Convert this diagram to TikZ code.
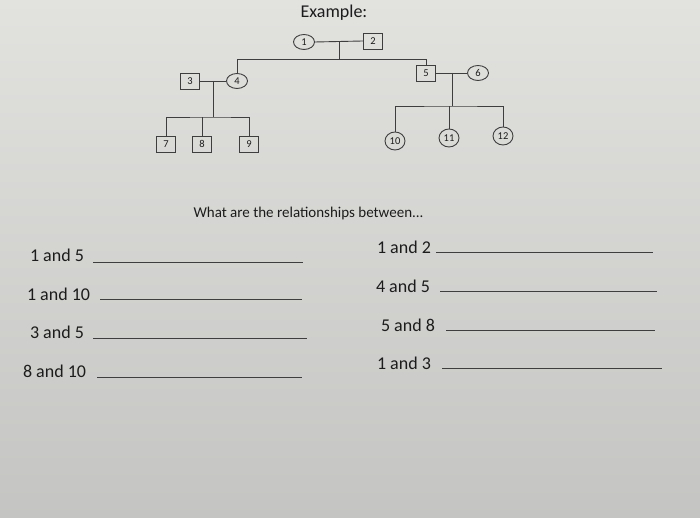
\documentclass[tikz,border=0pt]{standalone}
\usepackage{fontspec}
\setmainfont{Carlito}
\usetikzlibrary{shapes.geometric}
\begin{document}
\begin{tikzpicture}[x=1pt,y=1pt,
  male/.style={draw=drawColor,line width=0.9pt,rectangle,minimum width=19pt,minimum height=16pt,inner sep=0pt,text=textColor,font=\fontsize{10.5}{11}\selectfont},
  female/.style={draw=drawColor,line width=0.9pt,ellipse,minimum width=21pt,minimum height=15pt,inner sep=0pt,text=textColor,font=\fontsize{10.5}{11}\selectfont},
  kin/.style={draw=drawColor,line width=0.9pt},
  label/.style={text=textColor,anchor=base west,inner sep=0pt,outer sep=0pt,font=\fontsize{18}{20}\selectfont},
  blank/.style={draw=drawColor,line width=1pt}]
\definecolor{fillColor}{RGB}{226,226,223}
\definecolor{shadeColor}{RGB}{196,196,194}
\definecolor{drawColor}{RGB}{62,62,62}
\definecolor{textColor}{RGB}{28,28,28}
\path[use as bounding box] (0,0) rectangle (700,518);
\shade[top color=fillColor,bottom color=shadeColor] (0,0) rectangle (700,518);

% pedigree
\node[text=textColor,anchor=base,font=\fontsize{18}{20}\selectfont] (title) at (334,500) {Example:};

\node[female] (p1) at (304,476) {1};
\node[male] (p2) at (373,477) {2};
\coordinate (m12) at (339,476);
\coordinate (s12) at (339,459);
\draw[kin] (p1.east) -- (p2.west);
\draw[kin] (m12) -- (s12);

\node[male] (p3) at (190,437) {3};
\node[female] (p4) at (237,437) {4};
\node[male] (p5) at (426,445) {5};
\node[female] (p6) at (478,445) {6};
\draw[kin] (p4.north) |- (s12) -| (p5.north);

\coordinate (m34) at (213,437);
\coordinate (s34) at (213,401);
\draw[kin] (p3.east) -- (p4.west);
\draw[kin] (m34) -- (s34);

\node[male] (p7) at (166,374) {7};
\node[male] (p8) at (202,374) {8};
\node[male] (p9) at (249,374) {9};
\draw[kin] (p7.north) |- (s34) -| (p9.north);
\draw[kin] (p8.north) -- (p8.north |- s34);

\coordinate (m56) at (452,445);
\coordinate (s56) at (452,412);
\draw[kin] (p5.east) -- (p6.west);
\draw[kin] (m56) -- (s56);

\node[female,minimum width=20pt,minimum height=18pt] (p10) at (395,377) {10};
\node[female,minimum width=20pt,minimum height=18pt] (p11) at (449,380) {11};
\node[female,minimum width=20pt,minimum height=18pt] (p12) at (503,382) {12};
\draw[kin] (p10.north) |- (s56) -| (p12.north);
\draw[kin] (p11.north) -- (p11.north |- s56);

% questions
\node[text=textColor,anchor=base,inner sep=0pt,font=\fontsize{15}{17}\selectfont] (ask) at (308.5,300) {What are the relationships between...};

\node[label] (q15) at (30,256) {1 and 5};
\node[label] (q110) at (27,217) {1 and 10};
\node[label] (q35) at (30,179) {3 and 5};
\node[label] (q810) at (23,140) {8 and 10};
\coordinate (e15) at (303,255);
\coordinate (e110) at (302,218);
\coordinate (e35) at (307,179);
\coordinate (e810) at (302,140);
\draw[blank] (93,255) -- (e15);
\draw[blank] (100,218) -- (e110);
\draw[blank] (93,179) -- (e35);
\draw[blank] (97,140) -- (e810);

\node[label] (q12) at (377,264) {1 and 2};
\node[label] (q45) at (376,225) {4 and 5};
\node[label] (q58) at (381,186) {5 and 8};
\node[label] (q13) at (377,148) {1 and 3};
\coordinate (e12) at (653,265);
\coordinate (e45) at (657,226);
\coordinate (e58) at (655,187);
\coordinate (e13) at (662,149);
\draw[blank] (436,265) -- (e12);
\draw[blank] (440,226) -- (e45);
\draw[blank] (446,187) -- (e58);
\draw[blank] (442,149) -- (e13);
\end{tikzpicture}
\end{document}
